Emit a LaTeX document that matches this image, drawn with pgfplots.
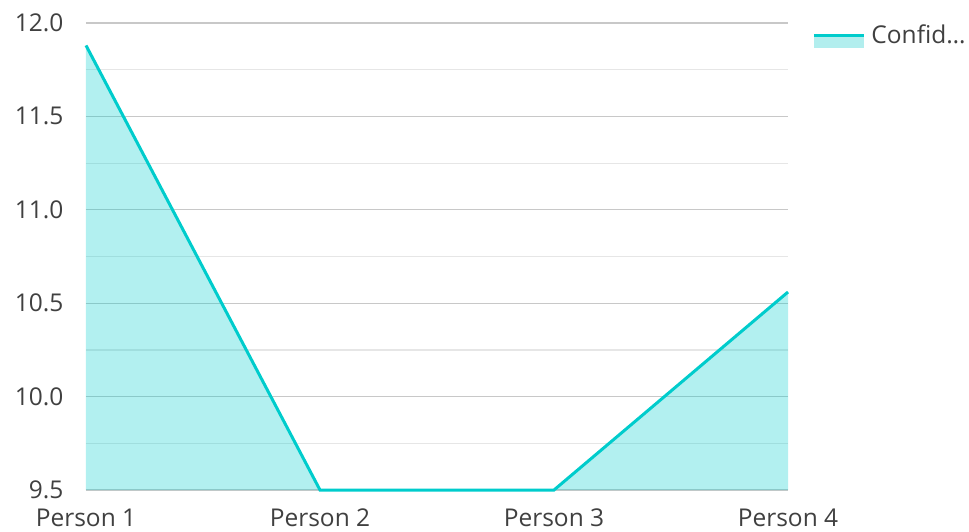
\documentclass[border=0pt]{standalone}
\usepackage{fontspec}
\setmainfont{Open Sans}
\usepackage{pgfplots}
\pgfplotsset{compat=1.18}
\definecolor{linec}{RGB}{0,204,204}
\definecolor{fillc}{RGB}{178,238,238}
\definecolor{txt}{RGB}{64,64,64}
\definecolor{majg}{RGB}{200,200,200}
\definecolor{ming}{RGB}{230,230,230}
\begin{document}
\begin{tikzpicture}[x=1pt,y=1pt]
\begin{axis}[
  at={(0pt,0pt)}, anchor=south west,
  scale only axis, width=702pt, height=467pt,
  xmin=0, xmax=3, ymin=9.5, ymax=12,
  xtick={0,1,2,3}, xticklabels={Person 1,Person 2,Person 3,Person 4},
  ytick={9.5,10,10.5,11,11.5,12},
  minor ytick={9.75,10.25,10.75,11.25,11.75},
  ymajorgrids, yminorgrids,
  major grid style={majg, line width=1.2pt},
  minor grid style={ming, line width=1.2pt},
  axis line style={draw=none},
  major tick length=0pt, minor tick length=0pt,
  tick label style={font=\fontsize{24.5}{28}\selectfont, text=txt},
  yticklabel style={/pgf/number format/fixed, /pgf/number format/fixed zerofill,
    /pgf/number format/precision=1, /pgf/number format/assume math mode=true, xshift=-19pt},
  xticklabel style={yshift=-15pt},
  clip=false,
  legend style={at={(1.0342,1.0)}, anchor=north west, draw=none, fill=none,
    font=\fontsize{24.5}{28}\selectfont, text=txt, inner sep=0pt},
  legend cell align=left,
]
\addplot[draw=none, fill=linec, fill opacity=0.3, forget plot] coordinates {(0,11.88) (1,9.5) (2,9.5) (3,10.56)} \closedcycle;
\addplot[linec, line width=3pt,
  legend image code/.code={
    \path[fill=fillc, draw=none] (0pt,-13pt) rectangle (50pt,0pt);
    \draw[linec, line width=3.5pt] (0pt,0pt) -- (50pt,0pt);
    \path (54pt,0pt);}
  ] coordinates {(0,11.88) (1,9.5) (2,9.5) (3,10.56)};
\addlegendentry{Confid…}
\end{axis}
\pgfresetboundingbox
\path[use as bounding box] (-86pt,-41pt) rectangle (883pt,490pt);
\end{tikzpicture}
\end{document}
